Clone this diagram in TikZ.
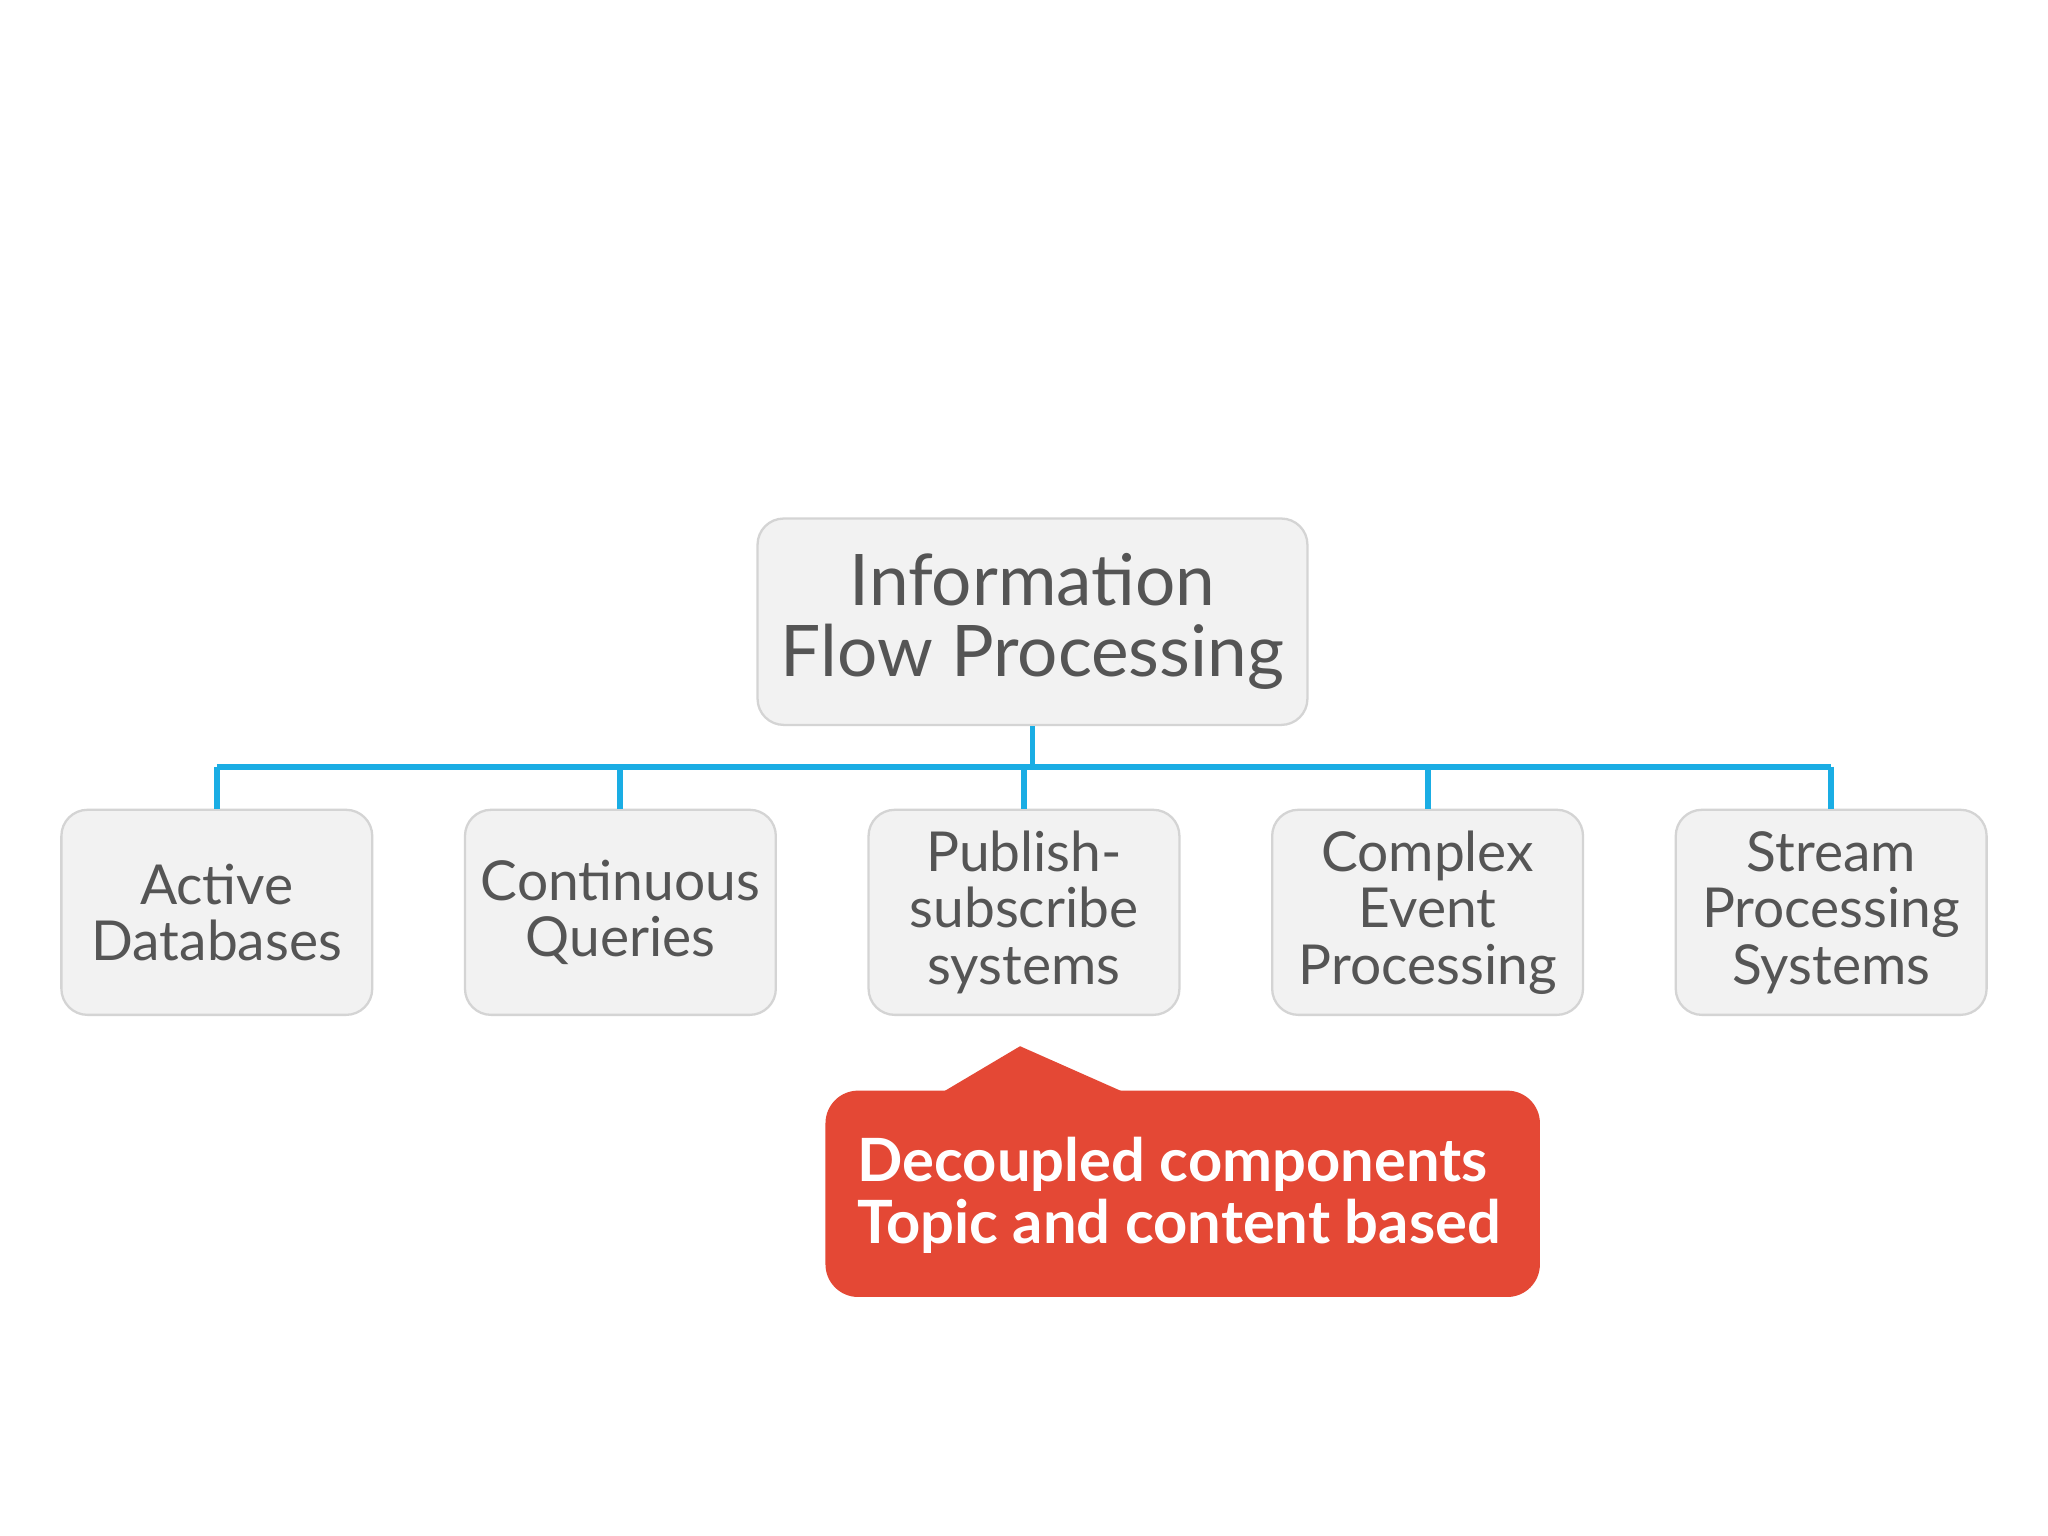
\documentclass[tikz,border=0pt]{standalone}
\usepackage{fontspec}
\setmainfont{Lato}
\definecolor{boxfill}{HTML}{F2F2F2}
\definecolor{boxline}{HTML}{D4D4D4}
\definecolor{txt}{HTML}{555555}
\definecolor{conn}{HTML}{1AADE4}
\definecolor{callred}{HTML}{E44835}
\begin{document}
\begin{tikzpicture}[x=0.1mm,y=-0.1mm,
  box/.style={draw=boxline,fill=boxfill,rounded corners=2mm,line width=0.5pt,text=txt,align=center,inner sep=0pt},
  child/.style={box,minimum width=23.8mm,minimum height=15.7mm,font=\fontsize{12}{12.3}\selectfont},
  link/.style={conn,line width=1.3pt}]
\useasboundingbox[fill=white] (0,0) rectangle (1568,1176);
\node[box,minimum width=42.1mm,minimum height=15.8mm,font=\fontsize{15.5}{15.5}\selectfont] (root) at (790.5,476) {Information\\Flow Processing};
\node[child] (c1) at (166,698.5) {Active\\Databases};
\node[child] (c2) at (475,698.5) {Continuous\\Queries};
\node[child] (c3) at (784,698.5) {Publish-\\subscribe\\systems};
\node[child] (c4) at (1093,698.5) {Complex\\Event\\Processing};
\node[child] (c5) at (1402,698.5) {Stream\\Processing\\Systems};
\coordinate (bus) at (790.5,587);
\draw[link] (root.south) -- (bus);
\foreach \c in {c1,c2,c3,c4,c5}{\draw[link] (bus -| \c.north) -- (\c.north);}
\draw[link] (bus -| c1.north) -- (bus -| c5.north);
\fill[callred,rounded corners=2.5mm] (632,835) rectangle (1179,993);
\fill[callred] (722,836) -- (781,801) -- (860,836) -- cycle;
\node[text=white,font=\bfseries\fontsize{13}{13.5}\selectfont,align=left,anchor=west,inner sep=0pt] (call) at (656,915) {Decoupled components\\Topic and content based};
\end{tikzpicture}
\end{document}
